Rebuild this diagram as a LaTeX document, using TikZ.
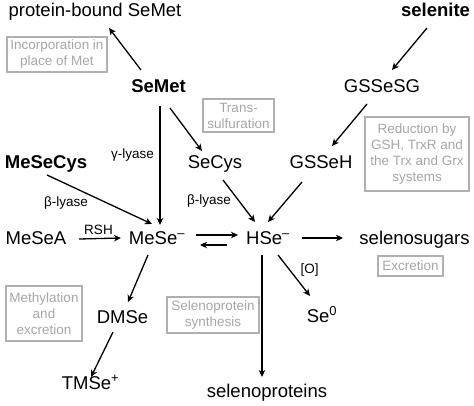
\documentclass[tikz,border=0pt]{standalone}
\usepackage{fontspec}
\setmainfont{Liberation Sans}
\usetikzlibrary{arrows.meta,calc}
\definecolor{boxgray}{HTML}{B0B0B0}
\definecolor{txtgray}{HTML}{A6A6A6}
\begin{document}
\begin{tikzpicture}[x=1pt,y=-1pt,
  chem/.style={font=\fontsize{18.5}{20}\selectfont,inner sep=0pt,anchor=base},
  chemb/.style={chem,font=\fontsize{18.5}{20}\selectfont\bfseries},
  lab/.style={font=\fontsize{13.5}{15}\selectfont,inner sep=0pt,anchor=base},
  note/.style={draw=boxgray,line width=1.4pt,text=txtgray,inner sep=0pt,
    align=center,font=\fontsize{13.5}{16}\selectfont},
  arr/.style={line width=1.3pt,-{Stealth[length=7pt,width=6.5pt,inset=2pt]}}]
\useasboundingbox (0,0) rectangle (474,406);
% species
\node[chem]  (prot)  at (95,17)    {protein-bound SeMet};
\node[chemb] (selen) at (435.5,17) {selenite};
\node[chemb] (semet) at (158.5,93) {SeMet};
\node[chem]  (gssesg) at (382,93)  {GSSeSG};
\node[chemb] (mesecys) at (46,169) {MeSeCys};
\node[chem]  (secys) at (215,169)  {SeCys};
\node[chem]  (gsseh) at (321,169)  {GSSeH};
\node[chem]  (mesea) at (36,245)   {MeSeA};
\node[chem]  (mese)  at (157,244)  {MeSe\textsuperscript{–}};
\node[chem]  (hse)   at (268,244)  {HSe\textsuperscript{–}};
\node[chem]  (sugars) at (414.5,244) {selenosugars};
\node[chem]  (se0)   at (322,322)  {Se\textsuperscript{0}};
\node[chem]  (dmse)  at (122.5,323) {DMSe};
\node[chem]  (tmse)  at (90.5,389) {TMSe\textsuperscript{+}};
\node[chem]  (selprot) at (267,397) {selenoproteins};
% labels
\node[lab] (lg)  at (132.5,159) {γ-lyase};
\node[lab] (lb1) at (66,207)    {β-lyase};
\node[lab] (lb2) at (209,205)   {β-lyase};
\node[lab] (lrsh) at (98.5,235) {RSH};
\node[lab] (lo)  at (309.5,273) {[O]};
% gray notes
\node[note,minimum width=100pt,minimum height=35pt] (n1) at (57,54.5) {Incorporation in\\place of Met};
\node[note,minimum width=71pt,minimum height=33pt] (n2) at (238.5,115.5) {Trans-\\sulfuration};
\node[note,minimum width=104pt,minimum height=74pt] (n3) at (417,154) {Reduction by\\GSH, TrxR and\\the Trx and Grx\\systems};
\node[note,minimum width=65pt,minimum height=20pt] (n4) at (410.5,266) {Excretion};
\node[note,minimum width=76pt,minimum height=55pt] (n5) at (44,313.5) {Methylation\\and\\excretion};
\node[note,minimum width=92pt,minimum height=36pt] (n6) at (213,315) {Selenoprotein\\synthesis};
% arrows
\draw[arr] ($(semet.base)+(-17.5,-23)$) -- ($(prot.base)+(14,11)$);
\draw[arr] ($(semet.base)+(1.5,13)$) -- ($(mese.base)+(3,-19)$);
\draw[arr] ($(semet.base)+(11.5,15)$) -- ($(secys.base)+(-13,-18)$);
\draw[arr] ($(selen.base)+(-8.5,11)$) -- ($(gssesg.base)+(10,-23)$);
\draw[arr] ($(gssesg.base)+(-15,11)$) -- ($(gsseh.base)+(11,-23)$);
\draw[arr] ($(mesecys.base)+(1,6)$) -- ($(mese.base)+(-5,-20)$);
\draw[arr] ($(secys.base)+(8,11)$) -- ($(hse.base)+(-13,-22)$);
\draw[arr] ($(gsseh.base)+(-19,13)$) -- ($(hse.base)+(0,-22)$);
\draw[arr] ($(mesea.base)+(43,-6)$) -- ($(mese.base)+(-36,-6)$);
\draw[arr] ($(mese.base)+(39,-9)$) -- ($(hse.base)+(-30,-9)$);
\draw[arr] ($(hse.base)+(-41,1)$) -- ($(mese.base)+(43,1)$);
\draw[arr] ($(hse.base)+(34,-6)$) -- ($(sugars.base)+(-71.5,-6)$);
\draw[arr] ($(hse.base)+(10,11)$) -- ($(se0.base)+(-12,-26)$);
\draw[arr] ($(hse.base)+(-6,11)$) -- ($(selprot.base)+(-5,-20)$);
\draw[arr] ($(mese.base)+(-9,11)$) -- ($(dmse.base)+(5.5,-21)$);
\draw[arr] ($(dmse.base)+(-9.5,9)$) -- ($(tmse.base)+(0.5,-12)$);
\end{tikzpicture}
\end{document}
